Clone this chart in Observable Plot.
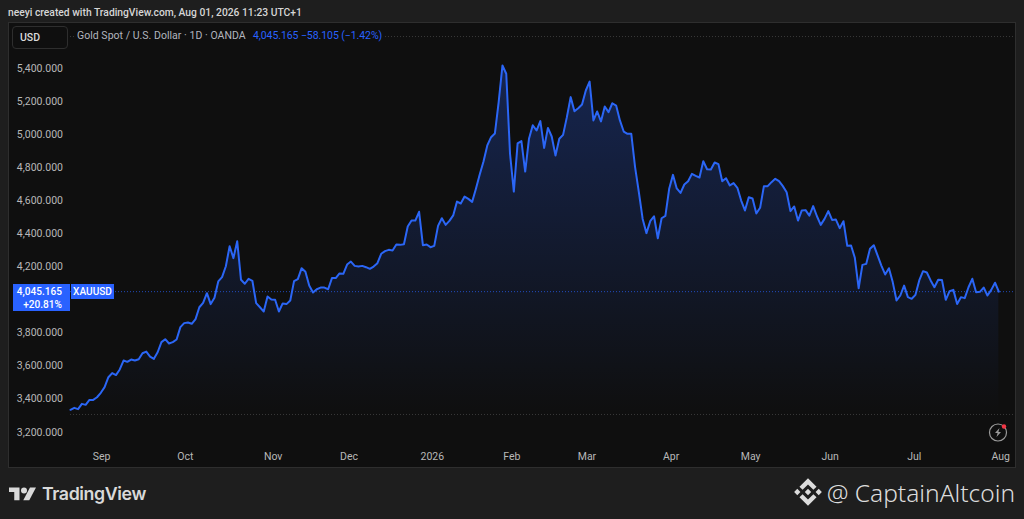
<!DOCTYPE html>
<html><head><meta charset="utf-8">
<script src="https://cdn.jsdelivr.net/npm/d3@7"></script>
<script src="https://cdn.jsdelivr.net/npm/@observablehq/plot@0.6"></script>
<style>
html,body{margin:0;padding:0;background:#1e1e1e;overflow:hidden}
#page{position:relative;width:1024px;height:519px;background:#1e1e1e;font-family:Roboto,sans-serif;overflow:hidden}
#header{position:absolute;left:8px;top:5px;font-size:10.3px;font-weight:500;color:#d6d6d6;white-space:nowrap;line-height:16px}
#pane{position:absolute;left:9px;top:23px;width:1006px;height:444px;outline:1px solid #2e2e2e}
#pane svg{display:block}
#usd{position:absolute;left:3px;top:3px;width:54px;height:21px;border:1px solid #2e2e2e;border-radius:4px;background:#0f0f0f;color:#dbdbdb;font-size:10.5px;font-weight:500;line-height:21px;text-indent:7px}
#legend{position:absolute;left:66px;top:6px;height:14px;line-height:14px;font-size:10.5px;letter-spacing:.03px;color:#b2b5be;background:#0f0f0f;white-space:pre;padding:0 2px}
#legend span{color:#2962ff;margin-left:2px;letter-spacing:-.07px}
.tag{position:absolute;background:#2962ff;color:#fff;font-size:10.1px;font-weight:500;line-height:13px;white-space:pre}
#tv{position:absolute;left:9px;top:484px;display:flex;align-items:center;gap:6px;color:#d9d9d9;font-family:Inter,sans-serif;font-size:17.8px;font-weight:600;letter-spacing:-.4px;height:18px}
#ca{position:absolute;right:9px;top:474px;display:flex;align-items:center;gap:5px;color:#dcdcdc;font-family:"Noto Sans",sans-serif;font-size:24.5px;font-weight:300;height:36px;white-space:nowrap}
#bolt{position:absolute;left:988px;top:422px}
</style></head>
<body>
<div id="page">
  <div id="header">neeyi created with TradingView.com, Aug 01, 2026 11:23 UTC+1</div>
  <div id="pane"></div>
  <svg id="bolt" width="20" height="20" viewBox="0 0 20 20"><circle cx="10" cy="10.5" r="8.5" fill="none" stroke="#9a9a9a" stroke-width="1.2"/><path d="M11.5 6 7 11h2.6L8.5 15 13 10h-2.6z" fill="#9a9a9a"/><circle cx="16" cy="4.5" r="2.2" fill="#f23645"/></svg>
  <div id="tv"><svg width="27" height="15" viewBox="0 0 36 20" fill="#d9d9d9"><path d="M14 2H0v6h7v11h7z"/><circle cx="20" cy="6" r="4"/><path d="M28 2h8l-9 17h-8z"/></svg><span>TradingView</span></div>
  <div id="ca"><svg width="28" height="28" viewBox="0 0 126 126" fill="#dcdcdc"><path d="M38.73 53.2 63 28.93l24.28 24.28 14.12-14.12L63 .69 24.61 39.08zM.69 63l14.12-14.12L28.93 63 14.81 77.12zM38.73 72.8 63 97.07l24.28-24.28 14.13 14.11L63 125.31 24.6 86.92zM97.07 63l14.12-14.12L125.31 63l-14.12 14.12zM77.32 63 63 48.68 48.68 63 63 77.32z"/></svg><span>@ CaptainAltcoin</span></div>
</div>
<script>
const closes = [
3331,3343,3335,3367,3361,3391,3391,3407,3434,3468,3528,3553,3541,3575,3629,3621,3635,3629,3637,3673,
3683,3653,3639,3679,3740,3758,3732,3740,3756,3831,3855,3859,3851,3879,3951,3978,4036,3970,4008,4107,
4133,4199,4320,4248,4350,4117,4093,4123,4111,3976,3951,3925,4016,3998,3996,3925,3974,3970,3992,4109,
4121,4187,4165,4082,4040,4060,4070,4070,4060,4127,4127,4155,4153,4209,4227,4201,4197,4201,4193,4183,
4197,4217,4274,4290,4298,4294,4330,4328,4332,4439,4475,4475,4528,4326,4330,4314,4322,4443,4489,4449,
4473,4506,4590,4578,4620,4606,4588,4667,4753,4832,4929,4979,5001,5190,5412,5362,4878,4650,4941,4955,
4771,4969,5051,5019,5076,4914,5035,4983,4868,4969,4993,5100,5221,5136,5154,5176,5261,5315,5080,5134,
5074,5164,5130,5184,5170,5080,5013,4999,4999,4798,4646,4485,4399,4471,4501,4368,4489,4503,4667,4751,
4669,4642,4693,4713,4757,4745,4735,4834,4785,4783,4826,4816,4713,4731,4687,4701,4673,4596,4536,4616,
4608,4518,4552,4683,4683,4707,4727,4713,4683,4646,4532,4560,4475,4536,4538,4505,4562,4501,4449,4485,
4532,4479,4481,4429,4471,4322,4324,4250,4066,4207,4213,4304,4326,4264,4203,4149,4187,4103,3992,4022,
4082,4012,4002,4026,4113,4169,4161,4113,4072,4117,4115,3996,4048,4056,3970,4012,4006,4072,4123,4042,
4044,4070,4022,4056,4099,4045.165
];
const priceTicks = [3200,3400,3600,3800,4200,4400,4600,4800,5000,5200,5400];
const monthBars = [8.2,30.3,53.5,73.5,95.5,116.5,136.3,158.5,179.5,200.5,222.7,245.5];
const monthLabels = ["Sep","Oct","Nov","Dec","2026","Feb","Mar","Apr","May","Jun","Jul","Aug"];
const upperDotted = 5587;
const lowerDotted = 3303;
const lastPrice = 4045.165;

const rows = closes.map((close, bar) => ({bar, close}));
const gradient = () => {
  const svg = d3.create("svg:defs");
  const g = svg.append("linearGradient").attr("id","fade").attr("x1",0).attr("y1",0).attr("x2",0).attr("y2",1);
  g.append("stop").attr("offset","0%").attr("stop-color","#2962ff").attr("stop-opacity",0.27);
  g.append("stop").attr("offset","100%").attr("stop-color","#2962ff").attr("stop-opacity",0);
  return svg.node();
};
const font = 'Roboto,sans-serif';
const chart = Plot.plot({
  width:1006, height:444,
  marginLeft:61, marginRight:0, marginTop:44, marginBottom:36,
  style:{background:"#0f0f0f",fontFamily:font,fontSize:"10.5px",color:"#b8b8b8"},
  x:{domain:[0,249.4]},
  y:{domain:[3200,5400]},
  marks:[
    gradient,
    Plot.areaY(rows,{x:"bar",y1:lowerDotted,y2:"close",fill:"url(#fade)"}),
    Plot.ruleY([upperDotted,lowerDotted],{stroke:"#3a3a3a",strokeWidth:1,strokeDasharray:"1 2"}),
    Plot.ruleY([lastPrice],{stroke:"#2962ff",strokeOpacity:.7,strokeWidth:1,strokeDasharray:"1 2"}),
    Plot.lineY(rows,{x:"bar",y:"close",stroke:"#2b66f6",strokeWidth:2,strokeLinejoin:"round"}),
    Plot.axisY(priceTicks,{anchor:"left",label:null,tickSize:0,tickPadding:7.5,dy:0.7,tickFormat:d3.format(",.3f"),fill:"#b8b8b8"}),
    Plot.axisX(monthBars,{anchor:"bottom",label:null,tickSize:0,tickPadding:21,tickFormat:(d,i)=>monthLabels[i],fill:"#b8b8b8"})
  ]
});
const pane = document.getElementById("pane");
pane.appendChild(chart);

const usd = document.createElement("div"); usd.id="usd"; usd.textContent="USD"; pane.appendChild(usd);
const legend = document.createElement("div"); legend.id="legend";
legend.innerHTML = 'Gold Spot / U.S. Dollar · 1D · OANDA  <span>4,045.165 −58.105 (−1.42%)</span>';
pane.appendChild(legend);

const yLast = chart.scale("y").apply(lastPrice);
const t1 = document.createElement("div"); t1.className="tag";
t1.style.cssText=`left:4px;top:${yLast-7}px;width:57px;height:27px;text-align:right;padding-right:8px;box-sizing:border-box;padding-top:1px`;
t1.textContent="4,045.165\n+20.81%";
pane.appendChild(t1);
const t2 = document.createElement("div"); t2.className="tag";
t2.style.cssText=`left:62px;top:${yLast-7}px;width:43px;height:15px;text-align:center;line-height:15px`;
t2.textContent="XAUUSD";
pane.appendChild(t2);
</script>
</body></html>
